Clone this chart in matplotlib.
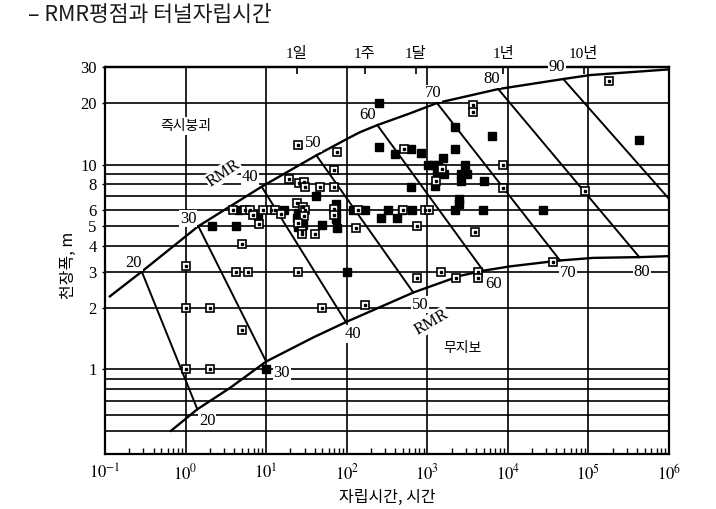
import matplotlib
matplotlib.use("Agg")
import matplotlib.pyplot as plt
import numpy as np

plt.rcParams['font.family'] = ['Liberation Serif', 'Noto Sans CJK KR', 'DejaVu Sans']
plt.rcParams['mathtext.fontset'] = 'stix'
kr = ['Noto Sans CJK KR', 'DejaVu Sans']
mix = ['Liberation Serif', 'Noto Sans CJK KR']

# RMR 등급선 (상한 곡선 위 점 -> 하한 곡선 위 점)
rmr_vals = [20, 30, 40, 50, 60, 70, 80, 90]
up_x = [0.286, 1.44, 8.8, 42, 240, 1320, 7600, 48700]
up_y = [3.0, 5.0, 7.8, 11.1, 15.6, 20.0, 23.4, 26.2]
lo_x = [1.40, 10, 98, 671, 4950, 44400, 428000, 1e6]
lo_y = [0.637, 1.09, 1.70, 2.37, 3.03, 3.40, 3.53, 6.8]

# 경계 곡선
upper_x = [0.115, 0.286, 1.44, 8.8, 42, 110, 146, 240, 610, 1320, 7600, 48700, 105000, 1e6]
upper_y = [2.27, 3.0, 5.0, 7.8, 11.1, 13.6, 14.4, 15.6, 17.8, 20.0, 23.4, 26.2, 27.4, 29.2]
lower_x = [0.66, 1.40, 3.56, 10, 38.5, 98, 671, 2550, 4950, 10600, 44400, 115000, 428000, 1e6]
lower_y = [0.5, 0.637, 0.81, 1.09, 1.43, 1.70, 2.37, 2.86, 3.03, 3.18, 3.40, 3.5, 3.53, 3.57]

# 라벨 위치
up_lab_x = [0.229, 1.07, 6.3, 38, 184, 1180, 6300, 40500]
up_lab_y = [3.32, 5.45, 8.7, 12.7, 17.5, 22.3, 26.3, 30.0]
lo_lab = [20, 30, 40, 50, 60, 70, 80]
lo_lab_x = [1.85, 15.6, 119, 813, 6600, 56000, 460000]
lo_lab_y = [0.557, 0.955, 1.49, 2.07, 2.62, 2.95, 3.0]

# 사례 (빈 사각형)
open_x = [1, 1, 2, 1, 2, 5, 50, 170,
          5, 4.2, 6, 25,
          3.9, 5.5, 6.3, 9.1, 11.5, 12.9,
          6.9, 8.2, 15.5,
          25, 75, 70, 19, 25.6, 29.5, 30, 46.5, 70,
          24.4, 29, 30.3, 29.5, 25, 28, 28,
          70, 70,
          139, 504, 937, 1060,
          740, 130, 3900, 40,
          3700, 3700, 510, 1510, 1270, 8630, 8630, 180000, 90000, 36000,
          740, 1480, 2250, 4300, 4300]
open_y = [3.2, 2.0, 2.0, 1.0, 1.0, 1.55, 2.0, 2.05,
          4.1, 3.0, 3.0, 3.0,
          6.0, 6.0, 6.0, 6.0, 6.0, 6.0,
          5.7, 5.1, 5.75,
          12.5, 11.5, 9.4, 8.5, 8.1, 8.2, 7.8, 7.8, 7.8,
          6.47, 6.2, 6.0, 5.6, 5.17, 4.73, 4.6,
          6.1, 5.65,
          6.0, 6.0, 6.0, 6.0,
          5.0, 4.9, 4.7, 4.6,
          19.5, 18.0, 11.9, 9.5, 8.3, 10.0, 7.7, 25.6, 7.4, 3.35,
          2.8, 3.0, 2.8, 3.0, 2.8]

# 사례 (검은 사각형)
fill_x = [10, 2.1, 4.2, 100,
          4.6, 16.7, 121, 169, 323, 482, 641, 2210, 4950, 27500,
          8.0, 41, 49, 75,
          25, 24, 28, 28.5, 25,
          73, 73, 73,
          270, 425,
          250, 2200, 6300, 250, 400, 620, 830, 2210, 1550,
          1030, 1190, 1370, 1330, 1600, 2940, 3080, 2600, 2650, 1250, 5100, 620,
          2450, 2450, 420000]
fill_y = [1.0, 5.0, 5.0, 3.0,
          6.0, 6.0, 6.0, 6.0, 6.0, 6.0, 6.0, 6.0, 6.0, 6.0,
          5.6, 7.0, 5.05, 4.9,
          5.77, 5.5, 5.35, 5.07, 4.94,
          6.4, 5.8, 5.45,
          5.5, 5.5,
          20.0, 15.3, 13.8, 12.2, 11.3, 11.9, 11.4, 11.9, 10.8,
          10.0, 10.0, 10.0, 9.1, 9.0, 10.0, 9.0, 9.0, 8.34, 7.9, 8.3, 7.8,
          6.8, 6.4, 13.2]

hlines = [0.5, 0.6, 0.7, 0.8, 0.9, 1, 2, 3, 4, 5, 6, 7, 8, 9, 10, 20]
vlines = [1, 10, 100, 1000, 1e4, 1e5]
time_pos = [24, 168, 720, 8760, 87600]
time_lab = ['1일', '1주', '1달', '1년', '10년']

fig = plt.figure(figsize=(7.16, 5.09), dpi=100)
ax = fig.add_axes([105/716, 1-454/509, (669-105)/716, (454-67)/509])
ax.set_xscale('log')
ax.set_yscale('log')
ax.set_xlim(0.1, 1e6)
ax.set_ylim(0.385, 30)

for h in hlines:
    ax.axhline(h, color='black', lw=1.2, zorder=1)
for v in vlines:
    ax.axvline(v, color='black', lw=1.2, zorder=1)

ax.plot(upper_x, upper_y, color='black', lw=1.7, zorder=2)
ax.plot(lower_x, lower_y, color='black', lw=1.7, zorder=2)
for i in range(len(rmr_vals)):
    ax.plot([up_x[i], lo_x[i]], [up_y[i], lo_y[i]], color='black', lw=1.4, zorder=2)

box = dict(facecolor='white', edgecolor='none', pad=0.6)
for v, x, y in zip(rmr_vals, up_lab_x, up_lab_y):
    ax.text(x, y, str(v), fontsize=12, ha='center', va='center', bbox=box,
            zorder=3, clip_on=False)
for v, x, y in zip(lo_lab, lo_lab_x, lo_lab_y):
    ax.text(x, y, str(v), fontsize=12, ha='center', va='center', bbox=box, zorder=3)

ax.text(2.94, 9.1, 'RMR', fontsize=12, rotation=34, ha='center', va='center',
        bbox=box, zorder=3)
ax.text(1135, 1.70, 'RMR', fontsize=12, rotation=30, ha='center', va='center',
        bbox=box, zorder=3)
ax.text(1.0, 15.5, '즉시붕괴', fontsize=10, family=kr, ha='center', va='center',
        bbox=dict(facecolor='white', edgecolor='none', pad=1.5), zorder=3)
ax.text(2700, 1.27, '무지보', fontsize=10, family=kr, ha='center', va='center', zorder=3)

ax.plot(fill_x, fill_y, 's', ms=5.8, color='black', zorder=4)
ax.plot(open_x, open_y, 's', ms=5.2, mfc='white', mec='black', mew=1.2, zorder=4)
ax.plot(open_x, open_y, 's', ms=1.5, color='black', zorder=5)

for s in ax.spines.values():
    s.set_linewidth(1.6)

ax.set_xticks([10.0**k for k in range(-1, 7)])
ax.set_xticklabels(['$10^{%d}$' % k for k in range(-1, 7)], fontsize=12)
ax.tick_params(axis='x', which='major', length=0, pad=7)
ax.tick_params(axis='x', which='minor', direction='in', length=4, width=1, top=False)
ax.set_yticks([1, 2, 3, 4, 5, 6, 8, 10, 20, 30])
ax.set_yticklabels(['1', '2', '3', '4', '5', '6', '8', '10', '20', '30'], fontsize=12)
ax.yaxis.set_minor_locator(matplotlib.ticker.NullLocator())
ax.tick_params(axis='y', which='major', direction='out', length=2, width=1, pad=4)

top = ax.secondary_xaxis('top')
top.set_xticks(time_pos)
top.set_xticklabels(time_lab, family=mix, fontsize=11)
top.xaxis.set_minor_locator(matplotlib.ticker.NullLocator())
top.tick_params(direction='in', length=5, width=1.2, pad=4)
top.spines['top'].set_linewidth(1.6)

ax.set_xlabel('자립시간, 시간', family=kr, fontsize=11.5, labelpad=4)
fig.text(68/716, 1-265/509, '천장폭, m', family=kr, fontsize=11.5,
         rotation=90, ha='center', va='center')

fig.text(28/716, 1-15/509, '– RMR평점과 터널자립시간', family=kr, fontsize=15.5,
         va='center', ha='left', color='#1a1a1a')

fig.savefig('out.png', dpi=100, facecolor='white')
